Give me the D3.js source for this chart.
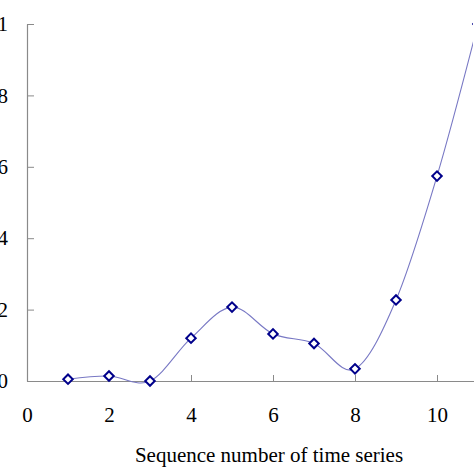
<!DOCTYPE html>
<html>
<head>
<meta charset="utf-8">
<script src="https://cdn.jsdelivr.net/npm/d3@7/dist/d3.min.js"></script>
<style>
  html, body { margin: 0; padding: 0; background: #fff; }
  svg { display: block; }
</style>
</head>
<body>
<svg id="chart" width="474" height="474"></svg>
<script>
const seqX = [1, 2, 3, 4, 5, 6, 7, 8, 9, 10, 11];
const values = [0.005, 0.014, 0.0, 0.12, 0.207, 0.132, 0.105, 0.034, 0.227, 0.574, 1.0];
const xTicks = [0, 2, 4, 6, 8, 10, 12];
const yTicks = [0, 0.2, 0.4, 0.6, 0.8, 1];
const xTitle = "Sequence number of time series";

const svg = d3.select("#chart");
const font = "'Liberation Serif', 'Times New Roman', serif";

const x = d3.scaleLinear().domain([0, 10]).range([27, 437]);
const y = d3.scaleLinear().domain([0, 1]).range([381, 24]);

const axisColor = "#8a8a8a";

// plot-area clip (the plot area ends at the right edge)
svg.append("defs").append("clipPath").attr("id", "plotClip")
  .append("rect").attr("x", 0).attr("y", 0).attr("width", 473).attr("height", 474);

// Y axis
const yAxis = d3.axisLeft(y)
  .tickValues(yTicks)
  .tickFormat(d => d === 0 ? "0" : d === 1 ? "1" : d3.format(".1f")(d))
  .tickSizeInner(-7)
  .tickSizeOuter(0)
  .tickPadding(19);
const gy = svg.append("g").attr("transform", `translate(${x(0)},0)`).call(yAxis);

// X axis
const xAxis = d3.axisBottom(x)
  .tickValues(xTicks)
  .tickFormat(d3.format("d"))
  .tickSizeInner(-6)
  .tickSizeOuter(0)
  .tickPadding(26);
const gx = svg.append("g").attr("transform", `translate(0,${y(0)})`).call(xAxis);

[gx, gy].forEach(g => {
  g.select(".domain").attr("stroke", axisColor).attr("stroke-width", 1.2);
  g.selectAll(".tick line").attr("stroke", axisColor).attr("stroke-width", 1);
  g.selectAll(".tick text")
    .attr("fill", "#000")
    .style("font-family", font)
    .style("font-size", "21px");
});
gx.select(".domain").attr("d", `M${x(0)},0.5H${x(14)}`);

// Line
const data = seqX.map((d, i) => ({ x: d, y: values[i] }));
const line = d3.line()
  .x(d => x(d.x))
  .y(d => y(d.y))
  .curve(d3.curveCardinal.tension(0));

const plot = svg.append("g").attr("clip-path", "url(#plotClip)");

plot.append("path")
  .datum(data)
  .attr("fill", "none")
  .attr("stroke", "#7878c4")
  .attr("stroke-width", 1.1)
  .attr("d", line);

// Markers
const sym = d3.symbol().type(d3.symbolSquare).size(45);
plot.selectAll(".pt")
  .data(data)
  .enter().append("path")
  .attr("class", "pt")
  .attr("d", sym)
  .attr("transform", d => `translate(${x(d.x)},${y(d.y)}) rotate(45)`)
  .attr("fill", "#fff")
  .attr("stroke", "#00008b")
  .attr("stroke-width", 2);

// X title
svg.append("text")
  .attr("x", 269)
  .attr("y", 462)
  .attr("text-anchor", "middle")
  .style("font-family", font)
  .style("font-size", "21px")
  .attr("fill", "#000")
  .text(xTitle);
</script>
</body>
</html>
